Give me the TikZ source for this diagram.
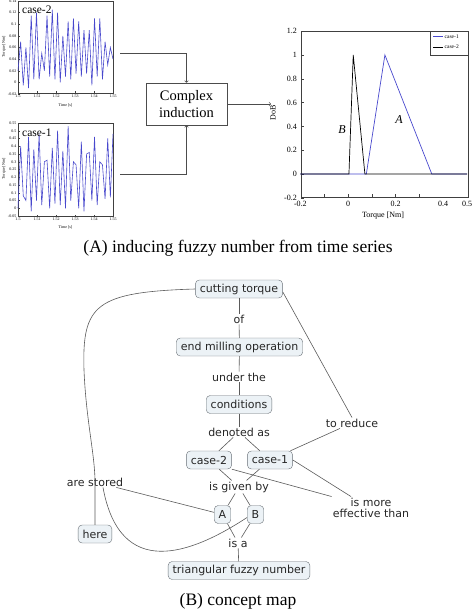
\documentclass[tikz,border=0pt]{standalone}
\usepackage{fontspec}
\setmainfont{Liberation Serif}
\newfontfamily\mapfont{DejaVu Sans}
\usepackage{tikz}
\definecolor{plotblue}{RGB}{72,72,205}
\definecolor{conceptfill}{RGB}{236,242,246}
\definecolor{conceptdraw}{RGB}{105,112,118}
\definecolor{linkgray}{RGB}{90,90,90}
\tikzset{
  concept/.style={draw=conceptdraw, fill=conceptfill, rounded corners=4pt,
    font=\mapfont\fontsize{11}{13}\selectfont, text=black!85,
    inner xsep=4.5pt, inner ysep=2pt, minimum height=18pt},
  linkword/.style={font=\mapfont\fontsize{11}{11}\selectfont, text=black!85,
    inner sep=1pt, align=center},
  maplink/.style={draw=linkgray, line width=0.6pt},
  flow/.style={draw=black!70, line width=0.6pt},
  tsline/.style={plotblue, line width=0.6pt},
  frame/.style={draw=black!75, line width=0.4pt},
  ticklabel/.style={font=\fontsize{4}{4}\selectfont, inner sep=0.5pt},
  axlabel/.style={font=\fontsize{8}{8}\selectfont, inner sep=1pt},
  caption/.style={font=\fontsize{17.5}{20}\selectfont},
}

\begin{document}
\begin{tikzpicture}[x=1pt,y=-1pt]
\useasboundingbox (0,0) rectangle (474,612);
\def\tsl{18};
\def\tsr{113};
\def\tx{348}; % torque 0 on the fuzzy plot
\def\tk{238}; % px per Nm
\def\ty{174}; % DoB 0
\def\tv{119}; % px per DoB unit

% time series case-2%
\draw[frame] (\tsl,1) rectangle (\tsr,93);
\foreach \v in {0.14,0.12,0.1,0.08,0.06,0.04,0.02,0,-0.02}
{
  \node[ticklabel, anchor=east] at (17,{1+(0.14-\v)*93/0.16}) {\v};
  \draw[frame] (\tsl,{1+(0.14-\v)*93/0.16}) -- ++(1.5,0);
}
\foreach \t [count=\i from 0] in {1.5,1.51,1.52,1.53,1.54,1.55}
{
  \node[ticklabel, anchor=north] at ({\tsl+\i*19},94.5) {\t};
  \draw[frame] ({\tsl+\i*19},93) -- ++(0,-1.5);
}
\node[ticklabel] at (65.5,105) {Time [s]};
\node[ticklabel, rotate=90] at (4,47) {Torque [Nm]};
\draw[tsline] (\tsl,{1+(0.14-0.02)*93/0.16})
  \foreach \v [count=\i from 2] in {0.07,-0.005,0.06,-0.01,0.115,0.005,0.12,0.005,0.05,0.02,0.115,0.01,0.125,0.005,0.12,0.0,0.08,0.01,0.105,0.005,0.11,0.015,0.105,0.01,0.09,0.015,0.09,-0.005,0.11,0.01,0.11,0.005,0.07,0.03,0.06,0.04}
  { -- ({\tsl+(\i-1)*95/36},{1+(0.14-\v)*93/0.16}) };
\node[font=\fontsize{11.5}{12}\selectfont, anchor=west, inner sep=0pt] at (22,10) {case-2};

% time series case-1%
\draw[frame] (\tsl,123) rectangle (\tsr,216);
\foreach \v in {0.55,0.5,0.45,0.4,0.35,0.3,0.25,0.2,0.15,0.1,0.05,0,-0.05}
{
  \node[ticklabel, anchor=east] at (17,{123+(0.55-\v)*93/0.6}) {\v};
  \draw[frame] (\tsl,{123+(0.55-\v)*93/0.6}) -- ++(1.5,0);
}
\foreach \t [count=\i from 0] in {1.5,1.51,1.52,1.53,1.54,1.55}
{
  \node[ticklabel, anchor=north] at ({\tsl+\i*19},217.5) {\t};
  \draw[frame] ({\tsl+\i*19},216) -- ++(0,-1.5);
}
\node[ticklabel] at (65.5,227) {Time [s]};
\node[ticklabel, rotate=90] at (4,169) {Torque [Nm]};
\draw[tsline] (\tsl,{123+(0.55-0.0)*93/0.6})
  \foreach \v [count=\i from 2] in {0.40,0.08,0.05,0.46,-0.02,0.38,0.05,0.48,0.02,0.30,0.31,0.0,0.39,0.03,0.50,0.02,0.37,0.0,0.53,0.05,0.30,0.28,0.0,0.43,-0.02,0.35,0.36,0.05,0.46,0.02,0.30,0.28,0.06,0.45,0.07,0.48}
  { -- ({\tsl+(\i-1)*95/36},{123+(0.55-\v)*93/0.6}) };
\node[font=\fontsize{11.5}{12}\selectfont, anchor=west, inner sep=0pt] at (22,133) {case-1};

% induction box and arrows%
\node[draw=black!70, line width=0.6pt, minimum width=81pt, minimum height=42pt, align=center,
  font=\fontsize{14.5}{17}\selectfont] (induction) at (186.5,104) {Complex\\induction};
\coordinate (caseTwoOut) at (120,53);
\coordinate (caseOneOut) at (120,174);
\coordinate (dobIn) at (271,104);
\draw[flow,->] (caseTwoOut) -| (induction.north);
\draw[flow,->] (caseOneOut) -| (induction.south);
\draw[flow,->] (induction.east) -- (dobIn);

% fuzzy numbers%
\draw[frame] (301,31) rectangle (468,197);
\foreach \v in {1.2,1,0.8,0.6,0.4,0.2,0,-0.2}
{
  \node[axlabel, anchor=east] at (298,{\ty-\v*\tv}) {\v};
  \draw[frame] (301,{\ty-\v*\tv}) -- ++(2.5,0);
}
\foreach \t in {-0.2,0,0.2,0.4,0.5}
  \node[axlabel, anchor=north] at ({\tx+\t*\tk},200) {\t};
\foreach \t in {-0.1,0,...,0.4}
  \draw[frame] ({\tx+\t*\tk},197) -- ++(0,-2.5);
\node[axlabel] at (383,216) {Torque [Nm]};
\node[axlabel, rotate=90] at (273,113) {DoB};
\draw[plotblue, line width=0.7pt] ({\tx-0.2*\tk},\ty) -- ({\tx+0.077*\tk},\ty)
  -- ({\tx+0.155*\tk},{\ty-\tv}) -- ({\tx+0.352*\tk},\ty) -- ({\tx+0.5*\tk},\ty);
\draw[black, line width=0.7pt] ({\tx-0.2*\tk},\ty) -- ({\tx+0.004*\tk},\ty)
  -- ({\tx+0.022*\tk},{\ty-\tv}) -- ({\tx+0.071*\tk},\ty) -- ({\tx+0.5*\tk},\ty);
\node[font=\itshape\fontsize{12}{12}\selectfont] (labB) at (342,130) {B};
\node[font=\itshape\fontsize{12}{12}\selectfont] (labA) at (399,120) {A};
% legend%
\draw[frame, fill=white] (430,31) rectangle (468,55);
\draw[plotblue, line width=0.6pt] (433,36.5) -- (443,36.5);
\draw[black, line width=0.6pt] (433,47) -- (443,47);
\node[font=\fontsize{5.5}{6}\selectfont, anchor=west, inner sep=0.5pt] at (444,36.5) {case-1};
\node[font=\fontsize{5.5}{6}\selectfont, anchor=west, inner sep=0.5pt] at (444,47) {case-2};

\node[caption] (captionA) at (238,248) {(A) inducing fuzzy number from time series};

% concept map%
\node[concept] (cutting) at (239,289) {cutting torque};
\node[linkword] (of) at (239,319) {of};
\node[concept] (milling) at (239.5,347) {end milling operation};
\node[linkword] (under) at (239,377) {under the};
\node[concept] (conditions) at (239,404.5) {conditions};
\node[linkword] (denoted) at (239,432) {denoted as};
\node[concept] (caseTwo) at (209,460) {case-2};
\node[concept] (caseOne) at (270,460) {case-1};
\node[linkword] (given) at (239,487) {is given by};
\node[concept] (numA) at (222.5,514.5) {A};
\node[concept] (numB) at (255.5,514.5) {B};
\node[linkword] (isA) at (238,543) {is a};
\node[concept] (fuzzy) at (239,570.5) {triangular fuzzy number};
\node[concept] (here) at (95,534) {here};
\node[linkword] (stored) at (95,482) {are stored};
\node[linkword] (reduce) at (352,423) {to reduce};
\node[linkword] (effective) at (371,507.5) {is more\\effective than};

\draw[maplink] (cutting) -- (of);
\draw[maplink] (of) -- (milling);
\draw[maplink] (milling) -- (under);
\draw[maplink] (under) -- (conditions);
\draw[maplink] (conditions) -- (denoted);
\draw[maplink] (denoted) -- (caseTwo);
\draw[maplink] (denoted) -- (caseOne);
\draw[maplink] (caseTwo) -- (given);
\draw[maplink] (caseOne) -- (given);
\draw[maplink] (given) -- (numA);
\draw[maplink] (given) -- (numB);
\draw[maplink] (numA) -- (isA);
\draw[maplink] (numB) -- (isA);
\draw[maplink] (isA) -- (fuzzy);
\draw[maplink] (caseOne) -- (reduce);
\draw[maplink] (reduce.north) -- ([yshift=-3pt]cutting.east);
\draw[maplink] (caseOne.east) -- ([xshift=-20pt]effective.north);
\draw[maplink] (caseTwo.south east) -- (effective.north west);
\draw[maplink] (numA) -- (stored);
\draw[maplink] ([yshift=-3pt]numB.west) .. controls (190,555) and (120,580) .. ([xshift=8pt]stored.south);
\draw[maplink] (cutting.west) .. controls (95,292) and (82,305) .. (84,370)
  .. controls (86,420) and (95,455) .. (stored.center) -- (here);

\node[caption] (captionB) at (238,601) {(B) concept map};
\end{tikzpicture}
\end{document}
